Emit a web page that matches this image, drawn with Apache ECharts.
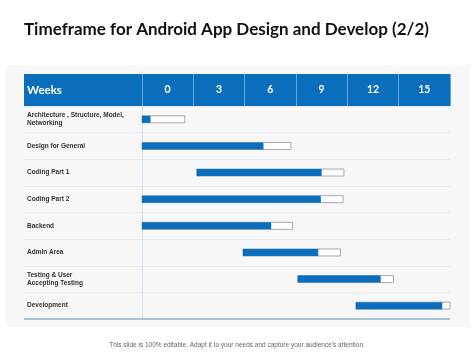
<!DOCTYPE html>
<html><head><meta charset="utf-8">
<script src="https://cdn.jsdelivr.net/npm/echarts@6/dist/echarts.min.js"></script>
<style>html,body{margin:0;padding:0;background:#fff}#c{width:474px;height:355px}</style>
</head><body><div id="c"></div>
<script>
const titleText = 'Timeframe for Android App Design and Develop (2/2)';
const tasks = ['Architecture , Structure, Model,\nNetworking','Design for General','Coding Part 1','Coding Part 2','Backend','Admin Area','Testing & User\nAccepting Testing','Development'];
const startWeek = [0, 0, 3.2, 0, 0, 5.9, 9.1, 12.5];
const doneWeek  = [0.5, 7.1, 10.5, 10.45, 7.55, 10.3, 13.95, 17.55];
const endWeek   = [2.5, 8.7, 11.8, 11.75, 8.8, 11.6, 14.7, 18];
const weekLabels = ['0','3','6','9','12','15'];
const headerLabel = 'Weeks';
const footerText = "This slide is 100% editable. Adapt it to your needs and capture your audience's attention.";

const data = tasks.map((t, i) => [i, startWeek[i], doneWeek[i], endWeek[i]]);
const chart = echarts.init(document.getElementById('c'), null, {renderer: 'canvas'});
const FONT = 'Lato';
chart.setOption({
  animation: false,
  backgroundColor: '#ffffff',
  title: [{
    text: titleText, left: 24, top: 21, padding: 0,
    textStyle: {fontFamily: FONT, fontSize: 17, fontWeight: 'bold', color: '#111'}
  }, {
    text: footerText, left: 'center', top: 342, padding: 0,
    textStyle: {fontFamily: 'Liberation Sans', fontSize: 6.5, fontWeight: 'normal', color: '#666'}
  }],
  grid: {left: 142, right: 24, top: 106, bottom: 36},
  xAxis: [{
    type: 'value', min: 0, max: 18, interval: 3, position: 'bottom',
    axisLine: {show: false}, axisTick: {show: false}, axisLabel: {show: false}, splitLine: {show: false}
  }, {
    type: 'category', data: weekLabels, position: 'top', boundaryGap: true, z: 10,
    axisLine: {show: false},
    axisTick: {show: true, interval: 0, length: 32, lineStyle: {color: '#6aa8dc', width: 1}},
    axisLabel: {color: '#fff', fontFamily: FONT, fontWeight: 'bold', fontSize: 10.5, margin: 11},
    splitLine: {show: false}
  }],
  yAxis: {
    type: 'category', data: tasks, inverse: true,
    axisLine: {show: true, lineStyle: {color: '#d3e3f0', width: 1}},
    axisTick: {show: true, interval: 0, length: 118, lineStyle: {color: '#e4e9ee'}},
    axisLabel: {align: 'left', margin: 115, fontFamily: 'Liberation Sans', fontSize: 6.5, fontWeight: 'bold', color: '#333', lineHeight: 8.5},
    splitLine: {show: true, interval: 0, lineStyle: {color: '#e4e9ee'}}
  },
  graphic: [
    {type: 'rect', z: -10, shape: {x: 5, y: 65, width: 465, height: 262}, style: {fill: '#f7f7f8'}},
    {type: 'rect', z: -5, shape: {x: 24, y: 74, width: 426, height: 32}, style: {fill: '#0a6ebd'}},
    {type: 'text', z: 20, x: 27, y: 90, style: {text: headerLabel, fill: '#fff', font: 'bold 11.5px Lato', verticalAlign: 'middle'}},
    {type: 'line', z: 5, shape: {x1: 24, y1: 319, x2: 450, y2: 319}, style: {stroke: '#a9c4d4', lineWidth: 2}}
  ],
  series: [{
    type: 'custom',
    data: data,
    encode: {x: [1, 2, 3], y: 0},
    renderItem: function (params, api) {
      const idx = api.value(0);
      const s = api.coord([api.value(1), idx]);
      const d = api.coord([api.value(2), idx]);
      const e = api.coord([api.value(3), idx]);
      const h = 7;
      return {type: 'group', children: [
        {type: 'rect', shape: {x: s[0], y: s[1] - h / 2, width: e[0] - s[0], height: h},
         style: {fill: '#ffffff', stroke: '#a8a8a8', lineWidth: 1}},
        {type: 'rect', shape: {x: s[0], y: s[1] - h / 2, width: d[0] - s[0], height: h},
         style: {fill: '#0a6ebd'}}
      ]};
    }
  }]
});
</script></body></html>
